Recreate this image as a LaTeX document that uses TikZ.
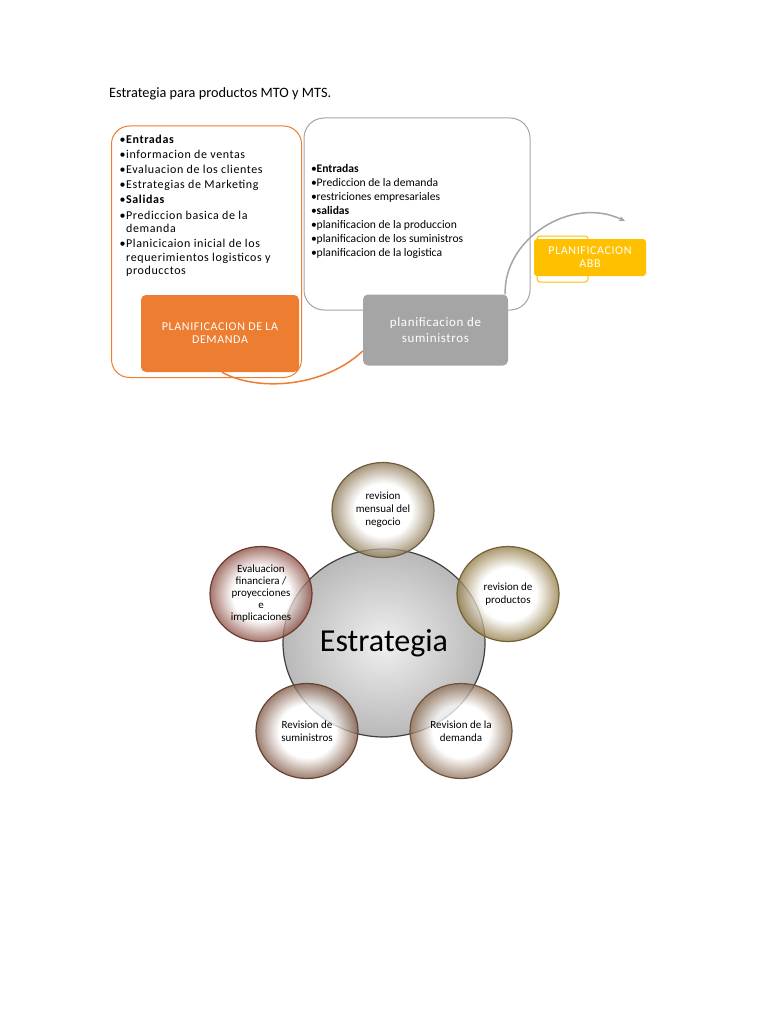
\documentclass[tikz,border=0pt]{standalone}
\usepackage{fontspec}
\setmainfont{Carlito}
\newfontfamily\wide{Carlito}[LetterSpace=5]
\newfontfamily\semiwide{Carlito}[LetterSpace=5]
\usetikzlibrary{shapes.geometric,arrows.meta}

\definecolor{naranja}{HTML}{ED7D31}
\definecolor{gris}{HTML}{A5A5A5}
\definecolor{amarillo}{HTML}{FFC000}
\definecolor{olivo}{HTML}{8A7550}
\definecolor{ocre}{HTML}{907840}
\definecolor{cafe}{HTML}{8B6A50}
\definecolor{tierra}{HTML}{7D5540}
\definecolor{rojizo}{HTML}{8A4A3E}

\newcommand{\bul}{\makebox[6.5pt][l]{\textbullet}}
\newcommand{\bulg}{\makebox[5.5pt][l]{\textbullet}}
\newcommand{\sangria}{\hspace*{6.5pt}}

\pgfdeclareradialshading[anillo]{halo}{\pgfpoint{0bp}{0bp}}{%
  color(0bp)=(white); color(14bp)=(white); color(25bp)=(anillo); color(50bp)=(anillo)}
\colorlet{anillo}{gray}

\tikzset{
  marco/.style={rounded corners=18pt, line width=1pt},
  caja/.style={rectangle, rounded corners=5pt, text=white, align=center, inner sep=0pt},
  lista/.style={anchor=north west, align=left, inner sep=0pt},
  petalo/.style={ellipse, minimum width=102pt, minimum height=95pt, draw=#1!80!black,
    line width=1.2pt, /utils/exec={\colorlet{anillo}{#1}}, shading=halo,
    fill opacity=0.75, draw opacity=1, text opacity=1, align=center,
    font=\fontsize{11}{13}\selectfont, inner sep=0pt},
}

\begin{document}
\begin{tikzpicture}[x=1pt,y=-1pt]
\useasboundingbox[fill=white] (0,0) rectangle (768,1024);

% titulo
\node[anchor=base west, inner sep=0pt, font=\fontsize{14.3}{16}\selectfont] (titulo) at (109,98)
  {Estrategia para productos MTO y MTS.};

% marcos de fondo
\draw[marco, naranja] (111.5,126) rectangle (301.5,377.5);
\draw[marco, gris, rounded corners=20pt] (304,118) rectangle (530,310);
\draw[amarillo, line width=1pt, rounded corners=3pt] (537,236) rectangle (588,282);

% listas
\node[lista, font=\wide\fontsize{12}{15.2}\selectfont] (listadem) at (119.5,134.5) {%
  \bul\textbf{Entradas}\\
  \bul informacion de ventas\\
  \bul Evaluacion de los clientes\\
  \bul Estrategias de Marketing\\
  \bul\textbf{Salidas}\\
  \bul Prediccion basica de la\\[-1.8pt]
  \sangria demanda\\
  \bul Planicicaion inicial de los\\[-1.8pt]
  \sangria requerimientos logisticos y\\[-1.8pt]
  \sangria producctos};

\node[lista, font=\fontsize{11.6}{14}\selectfont] (listasum) at (311,164.5) {%
  \bulg\textbf{Entradas}\\
  \bulg Prediccion de la demanda\\
  \bulg restriciones empresariales\\
  \bulg\textbf{salidas}\\
  \bulg planificacion de la produccion\\
  \bulg planificacion de los suministros\\
  \bulg planificacion de la logistica};

% cajas
\node[caja, fill=naranja, minimum width=158pt, minimum height=77pt,
  font=\semiwide\fontsize{12}{13}\selectfont] (dem) at (220,333.5)
  {PLANIFICACION DE LA\\DEMANDA};
\node[caja, fill=gris, minimum width=145pt, minimum height=71pt,
  font=\semiwide\fontsize{13}{15.5}\selectfont] (sum) at (435.5,330)
  {planificacion de\\suministros};
\node[caja, fill=amarillo, rounded corners=3pt, minimum width=112pt, minimum height=37pt,
  font=\semiwide\fontsize{12}{13}\selectfont] (abb) at (590,257.5)
  {PLANIFICACION\\ABB};

% conectores
\coordinate (flecha) at (625,221);
\draw[naranja, line width=1.5pt] ([xshift=2pt]dem.south) .. controls (255,391) and (322,389) .. ([yshift=-21pt]sum.west);
\draw[gris, line width=1.5pt, -{Stealth[length=6pt,width=5pt]}]
  ([xshift=-3pt]sum.north east) .. controls (503,240) and (570,195) .. (flecha);

% estrategia
\node[ellipse, minimum width=202pt, minimum height=188pt, draw=black!75, line width=1.2pt,
  inner color=gray!12, outer color=gray!55, font=\fontsize{32}{36}\selectfont] (estr) at (384,643)
  {Estrategia};

\node[petalo=olivo] (mensual) at (383,510) {revision\\mensual del\\negocio};
\node[petalo=ocre] (productos) at (508,594) {revision de\\productos};
\node[petalo=cafe] (demanda) at (461,731) {Revision de la\\demanda};
\node[petalo=tierra] (suministros) at (307,731) {Revision de\\suministros};
\node[petalo=rojizo, font=\fontsize{11}{12}\selectfont] (financiera) at (261,594)
  {Evaluacion\\financiera /\\proyecciones\\e\\implicaciones};

\end{tikzpicture}
\end{document}
